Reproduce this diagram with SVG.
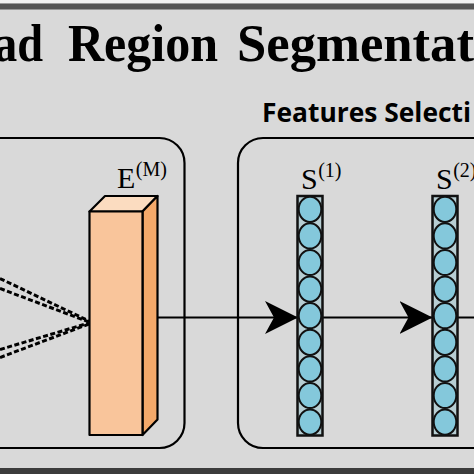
<svg xmlns="http://www.w3.org/2000/svg" width="474" height="474" viewBox="0 0 474 474">
<defs>
<style>
.frame{fill:none;stroke:#000;stroke-width:2.2}
.edge{stroke:#000;stroke-width:2;fill:none}
.dash{stroke:#000;stroke-width:3;fill:none;stroke-dasharray:5 2.5}
.blk{stroke:#000;stroke-width:2.2;stroke-linejoin:round}
.col{fill:#b7ced3;stroke:#111;stroke-width:2.5}
.cell{fill:#84c8db;stroke:#111;stroke-width:2}
.math{font-family:"Liberation Serif",serif;fill:#000}
.title{font-family:"Liberation Serif",serif;font-weight:bold;font-size:52px;fill:#000}
</style>
<marker id="stealth" markerUnits="userSpaceOnUse" markerWidth="34" markerHeight="34" refX="33" refY="16.5" orient="auto" viewBox="0 0 34 34">
<path d="M0,0 L33,16.5 L0,33 L9,16.5 Z" fill="#000"/>
</marker>
<g id="column">
<rect class="col" x="0" y="0" width="25" height="239.5"/>
<ellipse class="cell" cx="12.5" cy="13.3" rx="11.3" ry="12.6"/>
<ellipse class="cell" cx="12.5" cy="39.9" rx="11.3" ry="12.6"/>
<ellipse class="cell" cx="12.5" cy="66.5" rx="11.3" ry="12.6"/>
<ellipse class="cell" cx="12.5" cy="93.1" rx="11.3" ry="12.6"/>
<ellipse class="cell" cx="12.5" cy="119.7" rx="11.3" ry="12.6"/>
<ellipse class="cell" cx="12.5" cy="146.3" rx="11.3" ry="12.6"/>
<ellipse class="cell" cx="12.5" cy="172.9" rx="11.3" ry="12.6"/>
<ellipse class="cell" cx="12.5" cy="199.5" rx="11.3" ry="12.6"/>
<ellipse class="cell" cx="12.5" cy="226.1" rx="11.3" ry="12.6"/>
</g>
</defs>
<rect x="0" y="0" width="474" height="474" fill="#d9d9d9"/>
<rect x="0" y="0" width="474" height="3.5" fill="#f2f2f2"/>
<rect x="0" y="3.5" width="474" height="6" fill="#555"/>
<rect x="0" y="468" width="474" height="6" fill="#3c3c3c"/>

<g id="title">
<text class="title" x="-6" y="61" textLength="49" lengthAdjust="spacingAndGlyphs">ad</text>
<text class="title" x="68" y="61" textLength="150" lengthAdjust="spacingAndGlyphs">Region</text>
<text class="title" x="237" y="61" textLength="237" lengthAdjust="spacingAndGlyphs">Segmentat</text>
</g>

<g id="encoder-box">
<rect class="frame" x="-60" y="138" width="244.5" height="310" rx="25"/>
</g>
<g id="features-selection">
<rect class="frame" x="238" y="138" width="300" height="310" rx="25"/>
<text x="262" y="122" font-family="Open Sans, sans-serif" font-weight="bold" font-size="26" textLength="209" lengthAdjust="spacingAndGlyphs" fill="#000">Features Selecti</text>
</g>

<g id="connectors">
<line class="dash" x1="0" y1="278.5" x2="89" y2="321"/>
<line class="dash" x1="0" y1="288.5" x2="89" y2="322"/>
<line class="dash" x1="0" y1="349.5" x2="89" y2="323"/>
<line class="dash" x1="0" y1="357.5" x2="89" y2="324"/>
<line class="edge" x1="154" y1="317.5" x2="298" y2="317.5" marker-end="url(#stealth)"/>
<line class="edge" x1="322.5" y1="317.5" x2="432.5" y2="317.5" marker-end="url(#stealth)"/>
<line class="edge" x1="457.5" y1="317.5" x2="476" y2="317.5"/>
</g>

<g id="node-E">
<polygon class="blk" fill="#fbdcc0" points="89.5,211.5 105,196 157.5,196 142.5,211.5"/>
<polygon class="blk" fill="#f4a96a" points="142.5,211.5 157.5,196 157.5,419.5 142.5,435"/>
<rect class="blk" fill="#f9c59b" x="89.5" y="211.5" width="53" height="223.5"/>
<text class="math" x="117" y="188" font-size="30">E<tspan font-size="20" dy="-12" dx="0.5">(M)</tspan></text>
</g>

<g id="node-S1">
<use href="#column" x="297.5" y="196"/>
<text class="math" x="301" y="188.5" font-size="30">S<tspan font-size="20" dy="-12" dx="0.5">(1)</tspan></text>
</g>

<g id="node-S2">
<use href="#column" x="432.5" y="196"/>
<text class="math" x="436" y="188.5" font-size="30">S<tspan font-size="20" dy="-12" dx="0.5">(2)</tspan></text>
</g>
</svg>
